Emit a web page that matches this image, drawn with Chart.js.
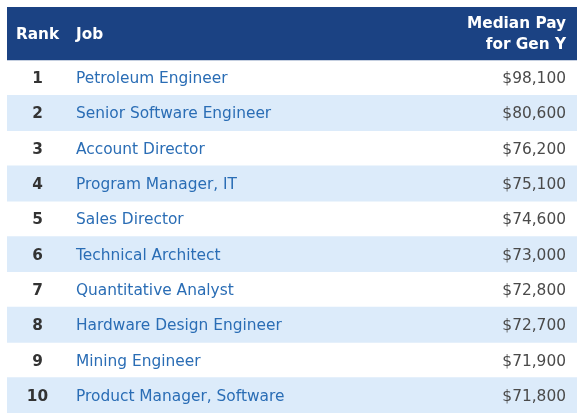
<!DOCTYPE html>
<html>
<head>
<meta charset="utf-8">
<script src="https://cdn.jsdelivr.net/npm/chart.js@4"></script>
<style>
  html, body { margin: 0; padding: 0; background: #ffffff; }
  #wrap { width: 584px; height: 420px; position: relative; }
</style>
</head>
<body>
<div id="wrap"><canvas id="c"></canvas></div>
<script>
// ---- data ----
const headerLabels = ['Rank', 'Job', 'Median Pay', 'for Gen Y'];
const ranks = [1, 2, 3, 4, 5, 6, 7, 8, 9, 10];
const jobs = [
  'Petroleum Engineer',
  'Senior Software Engineer',
  'Account Director',
  'Program Manager, IT',
  'Sales Director',
  'Technical Architect',
  'Quantitative Analyst',
  'Hardware Design Engineer',
  'Mining Engineer',
  'Product Manager, Software'
];
const medianPay = [98100, 80600, 76200, 75100, 74600, 73000, 72800, 72700, 71900, 71800];

// row geometry in table units (header is 1.5 rows tall)
const headerSpan = 1.5;
const rowStart = r => headerSpan + (r - 1);
const rowCenter = r => rowStart(r) + 0.5;

const headerBar = [{ x: 'table', y: [0, headerSpan] }];
const stripeBars = ranks.filter(r => r % 2 === 0).map(r => ({ x: 'table', y: [rowStart(r), rowStart(r) + 1] }));

const FONT = '"DejaVu Sans", Verdana, sans-serif';

const textPlugin = {
  id: 'tableText',
  afterDatasetsDraw(chart) {
    const { ctx, chartArea, scales } = chart;
    const y = scales.y;
    const rankX = chartArea.left + 30.5;
    const jobX = chartArea.left + 69;
    const payX = chartArea.right - 11;
    const dy = 1.5;
    ctx.save();
    ctx.textBaseline = 'middle';
    // header
    const hc = y.getPixelForValue(headerSpan / 2) + dy;
    ctx.fillStyle = '#ffffff';
    ctx.font = 'bold 15.3px ' + FONT;
    ctx.textAlign = 'center';
    ctx.fillText(headerLabels[0], rankX, hc);
    ctx.textAlign = 'left';
    ctx.fillText(headerLabels[1], jobX, hc);
    ctx.textAlign = 'right';
    ctx.fillText(headerLabels[2], payX, hc - 10.5);
    ctx.fillText(headerLabels[3], payX, hc + 10.5);
    // rows
    ranks.forEach((r, i) => {
      const cy = y.getPixelForValue(rowCenter(r)) + dy;
      ctx.font = 'bold 15.3px ' + FONT;
      ctx.fillStyle = '#333333';
      ctx.textAlign = 'center';
      ctx.fillText(String(r), rankX, cy);
      ctx.font = '15.4px ' + FONT;
      ctx.fillStyle = '#2a6db5';
      ctx.textAlign = 'left';
      ctx.fillText(jobs[i], jobX, cy);
      ctx.fillStyle = '#4a4a4a';
      ctx.textAlign = 'right';
      ctx.fillText('$' + medianPay[i].toLocaleString('en-US'), payX, cy);
    });
    ctx.restore();
  }
};

new Chart(document.getElementById('c'), {
  type: 'bar',
  data: {
    labels: ['table'],
    datasets: [
      { data: headerBar, backgroundColor: '#1b4283', borderWidth: 0, grouped: false, barPercentage: 1, categoryPercentage: 1 },
      { data: stripeBars, backgroundColor: '#dcebfa', borderWidth: 0, grouped: false, barPercentage: 1, categoryPercentage: 1 }
    ]
  },
  options: {
    responsive: true,
    maintainAspectRatio: false,
    animation: false,
    layout: { padding: { left: 7, right: 7, top: 7, bottom: 7 } },
    plugins: { legend: { display: false }, tooltip: { enabled: false } },
    scales: {
      x: { type: 'category', display: false, grid: { display: false } },
      y: { type: 'linear', display: false, reverse: true, min: 0, max: headerSpan + ranks.length, grid: { display: false } }
    }
  },
  plugins: [textPlugin]
});
</script>
</body>
</html>
